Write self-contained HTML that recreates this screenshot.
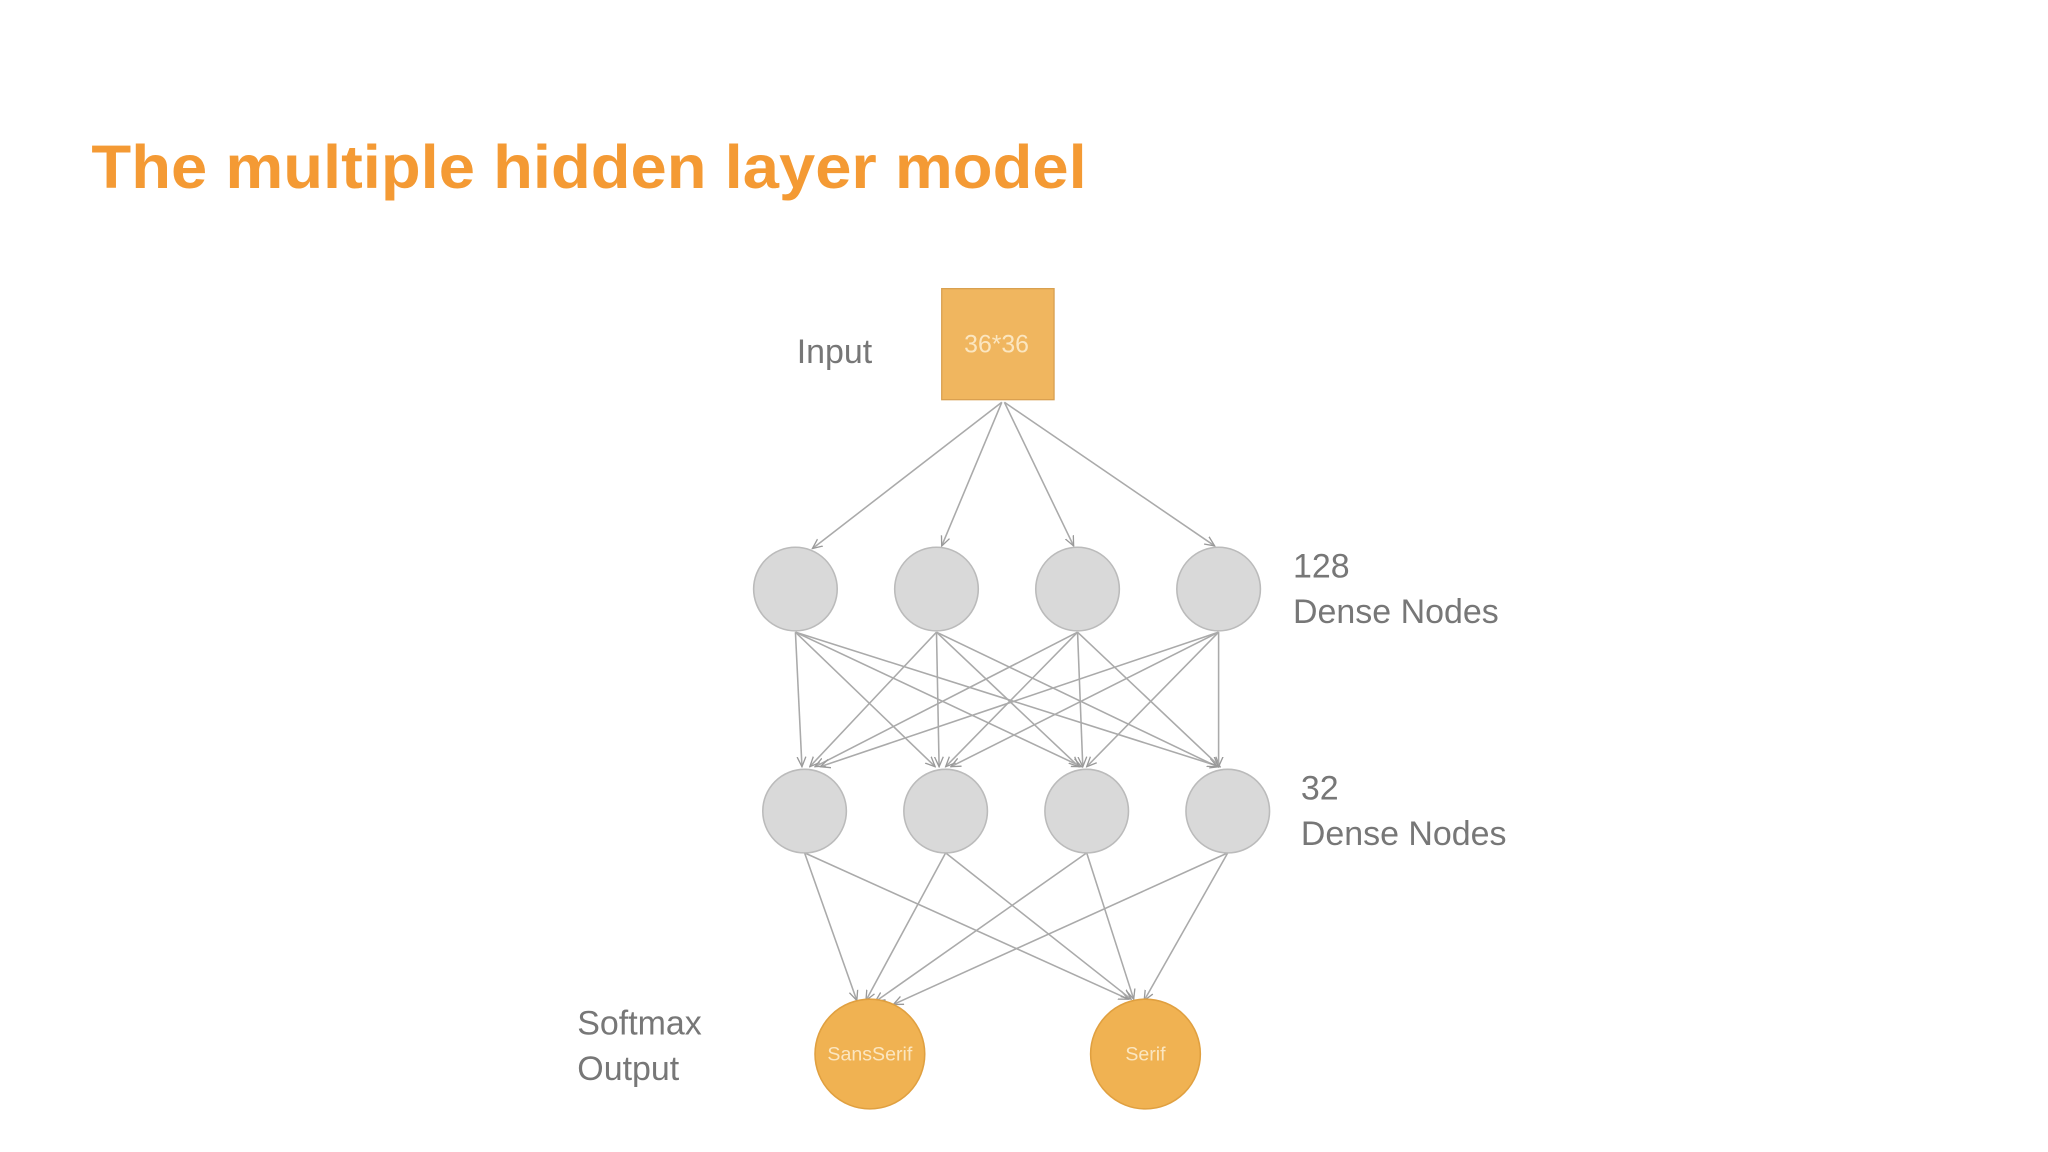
<!DOCTYPE html>
<html><head><meta charset="utf-8"><style>
html,body{margin:0;padding:0;background:#fff;}
svg{display:block;}
</style></head><body>
<svg width="2048" height="1152" viewBox="0 0 1568 882" xmlns="http://www.w3.org/2000/svg">
<defs>
<marker id="a" viewBox="0 0 10 10" refX="9" refY="5" markerWidth="7" markerHeight="7" orient="auto">
<path d="M0,1 L9,5 L0,9" fill="none" stroke="#999" stroke-width="1.2"/>
</marker>
</defs>
<rect width="1568" height="882" fill="#fff"/>
<text x="70" y="144" font-family="Liberation Sans, sans-serif" font-weight="bold" font-size="47" fill="#F49A34" textLength="762" lengthAdjust="spacingAndGlyphs">The multiple hidden layer model</text>
<g stroke="#aaa" stroke-width="1.2" fill="none" marker-end="url(#a)">
<line x1="767" y1="308" x2="622" y2="420"/>
<line x1="767" y1="308" x2="721" y2="418"/>
<line x1="769" y1="308" x2="822" y2="418"/>
<line x1="769" y1="308" x2="930" y2="418"/>
<!-- layer1 to layer2 -->
<line x1="609" y1="484" x2="614" y2="587"/>
<line x1="609" y1="484" x2="716" y2="587"/>
<line x1="609" y1="484" x2="828" y2="587"/>
<line x1="609" y1="484" x2="934" y2="587"/>
<line x1="717" y1="484" x2="620" y2="587"/>
<line x1="717" y1="484" x2="719" y2="587"/>
<line x1="717" y1="484" x2="826" y2="587"/>
<line x1="717" y1="484" x2="932" y2="587"/>
<line x1="825" y1="484" x2="624" y2="587"/>
<line x1="825" y1="484" x2="724" y2="587"/>
<line x1="825" y1="484" x2="829" y2="587"/>
<line x1="825" y1="484" x2="934" y2="587"/>
<line x1="933" y1="484" x2="628" y2="587"/>
<line x1="933" y1="484" x2="728" y2="587"/>
<line x1="933" y1="484" x2="832" y2="587"/>
<line x1="933" y1="484" x2="933" y2="587"/>
<!-- layer2 to outputs -->
<line x1="616" y1="653" x2="656" y2="766"/>
<line x1="616" y1="653" x2="864" y2="765"/>
<line x1="724" y1="653" x2="663" y2="766"/>
<line x1="724" y1="653" x2="866" y2="765"/>
<line x1="832" y1="653" x2="670" y2="767"/>
<line x1="832" y1="653" x2="868" y2="765"/>
<line x1="940" y1="653" x2="684" y2="769"/>
<line x1="940" y1="653" x2="876" y2="766"/>
</g>
<rect x="721" y="221" width="86" height="85" fill="#F0B65F" stroke="#d9a050" stroke-width="1"/>
<text x="763" y="270" text-anchor="middle" font-family="Liberation Sans, sans-serif" font-size="19" fill="#fbe6c0">36*36</text>
<g fill="#d9d9d9" stroke="#bbb" stroke-width="1.2">
<ellipse cx="609" cy="451" rx="32" ry="32"/>
<ellipse cx="717" cy="451" rx="32" ry="32"/>
<ellipse cx="825" cy="451" rx="32" ry="32"/>
<ellipse cx="933" cy="451" rx="32" ry="32"/>
<ellipse cx="616" cy="621" rx="32" ry="32"/>
<ellipse cx="724" cy="621" rx="32" ry="32"/>
<ellipse cx="832" cy="621" rx="32" ry="32"/>
<ellipse cx="940" cy="621" rx="32" ry="32"/>
</g>
<g fill="#F0B252" stroke="#e0a040" stroke-width="1.2">
<ellipse cx="666" cy="807" rx="42" ry="42"/>
<ellipse cx="877" cy="807" rx="42" ry="42"/>
</g>
<g font-family="Liberation Sans, sans-serif" fill="#fbe6c0" font-size="15" text-anchor="middle">
<text x="666" y="812">SansSerif</text>
<text x="877" y="812">Serif</text>
</g>
<g font-family="Liberation Sans, sans-serif" fill="#777" font-size="26">
<text x="610" y="278">Input</text>
<text x="990" y="442">128</text>
<text x="990" y="477">Dense Nodes</text>
<text x="996" y="612">32</text>
<text x="996" y="647">Dense Nodes</text>
<text x="442" y="792">Softmax</text>
<text x="442" y="827">Output</text>
</g>
</svg>
</body></html>
